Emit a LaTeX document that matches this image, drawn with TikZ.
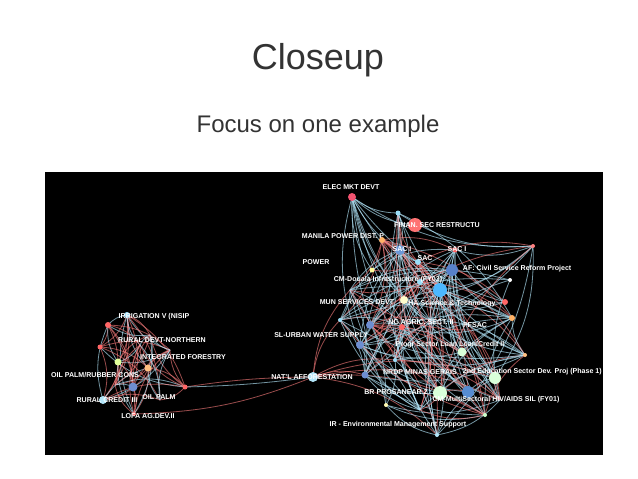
\documentclass[tikz,border=0pt]{standalone}
\usepackage{fontspec}
\setmainfont{Liberation Sans}
\begin{document}
\begin{tikzpicture}[x=0.75pt,y=-0.75pt,
  lab/.style={text=white,font=\fontsize{5.3}{6}\selectfont\bfseries,inner sep=0.5pt},
  edgeR/.style={draw=red!50!white,opacity=0.6,line width=0.6pt},
  edgeB/.style={draw=cyan!30!white,opacity=0.65,line width=0.6pt}]
\useasboundingbox (0,0) rectangle (638,478);
\fill[white] (0,0) rectangle (638,478);
\node[font=\fontsize{27}{30}\selectfont,text=black!80] (title) at (318,60) {Closeup};
\node[font=\fontsize{18}{21}\selectfont,text=black!80] (sub) at (318,126) {Focus on one example};
\fill[black] (45,172) rectangle (603,455);
% right cluster points
\foreach \x/\y [count=\i] in {352/197,415/225,382/240,400/250,455/250,418/262,372/270,452/270,420/282,440/290,404/300,505/302,402/327,512/318,370/325,360/345,462/352,313/377,365/375,495/378,440/393,468/392,386/405,485/415,437/435,398/213,533/246,510/280,340/320,395/360,525/355,430/320,470/330,350/290,500/400,420/410}
  {\coordinate (r\i) at (\x,\y);}
\foreach \i in {1,...,36}{\foreach \j in {1,...,36}{
  \ifnum\i<\j
    \pgfmathparse{int(mod(\i*7+\j*13+\i*\j,5))}
    \ifnum\pgfmathresult<2
      \pgfmathparse{int(mod(\i+\j*3,3))}
      \ifnum\pgfmathresult=0
        \draw[edgeR] (r\i) to[bend left=18] (r\j);
      \else
        \draw[edgeB] (r\i) to[bend right=18] (r\j);
      \fi
    \fi
  \fi}}
% left cluster points
\foreach \x/\y [count=\i] in {127/315,108/325,100/347,118/362,148/368,133/387,103/400,134/414,185/387,150/335,170/350,115/385,160/400,140/345}
  {\coordinate (l\i) at (\x,\y);}
\foreach \i in {1,...,14}{\foreach \j in {1,...,14}{
  \ifnum\i<\j
    \pgfmathparse{int(mod(\i*5+\j*11+\i*\j,4))}
    \ifnum\pgfmathresult<3
      \pgfmathparse{int(mod(\i+\j,3))}
      \ifnum\pgfmathresult=0
        \draw[edgeB] (l\i) to[bend right=20] (l\j);
      \else
        \draw[edgeR] (l\i) to[bend left=20] (l\j);
      \fi
    \fi
  \fi}}
\draw[edgeR] (l9) to[bend left=4] (r18);
\draw[edgeB] (l9) to[bend right=3] (r18);
\draw[edgeR] (l8) to[bend right=10] (r18);
% node dots
\foreach \c/\r/\col in {r1/4/magenta!40!red!70!white,r2/7/red!55!white,r3/3/orange!60!white,r4/5/cyan!50!blue!60!white,r5/2.5/red!60!white,r6/3/cyan!40!white,r7/2.5/yellow!40!white,r8/6/cyan!40!blue!70!white,r9/3/cyan!40!white,r10/7/blue!40!cyan!70!white,r11/4/yellow!20!white,r12/3/red!60!white,r13/3/red!60!white,r14/3/orange!60!white,r15/4/cyan!40!blue!60!white,r16/4/cyan!40!blue!60!white,r17/4.5/green!15!white,r18/5/cyan!30!white,r19/3.5/cyan!40!blue!60!white,r20/6/green!15!white,r21/7/green!15!white,r22/6/cyan!50!blue!70!white,r23/2/yellow!30!white,r24/2/green!20!white,r25/2/cyan!30!white,r26/2.5/cyan!40!white,r27/2/red!50!white,r28/2/white,r29/2/cyan!40!white,r30/2/cyan!40!white,r31/2/orange!50!white,
 l1/3/cyan!40!white,l2/3/red!60!white,l3/2.5/red!60!white,l4/3.5/green!30!yellow!40!white,l5/3.5/orange!50!white,l6/4.5/cyan!40!blue!60!white,l7/4/cyan!30!white,l8/2/red!50!white,l9/2.5/red!60!white}
  {\fill[\col] (\c) circle (\r);}
% labels right
\node[lab] (t1) at (351,187) {ELEC MKT DEVT};
\node[lab] (t2) at (437,225) {FINAN. SEC RESTRUCTU};
\node[lab] (t3) at (343,236) {MANILA POWER DIST. P};
\node[lab] (t4) at (402,249) {SAC I};
\node[lab] (t5) at (457,249) {SAC I};
\node[lab] (t6) at (425,258) {SAC};
\node[lab] (t7) at (316,262) {POWER};
\node[lab,anchor=west] (t8) at (462,269) {AF: Civil Service Reform Project};
\node[lab] (t9) at (388,280) {CM-Douala Infrastructure (FY03)};
\node[lab] (t10) at (357,302) {MUN SERVICES DEVT};
\node[lab] (t11) at (452,304) {HA Science \& Technology};
\node[lab] (t12) at (421,322) {NG AGRIC. SECT. II};
\node[lab] (t13) at (475,325) {PFSAC};
\node[lab] (t14) at (321,335) {SL-URBAN WATER SUPPLY};
\node[lab] (t15) at (450,345) {Progr Sector Loan Loan/Credit II};
\node[lab] (t16) at (312,377) {NAT'L AFFORESTATION};
\node[lab] (t17) at (420,372) {NRDP MINAS GERAIS};
\node[lab,anchor=west] (t18) at (462,372) {2nd Education Sector Dev. Proj (Phase 1)};
\node[lab] (t19) at (396,392) {BR PROSANEAR 2};
\node[lab] (t20) at (496,400) {CM-MultiSectoral HIV/AIDS SIL (FY01)};
\node[lab] (t21) at (398,425) {IR - Environmental Management Support};
% labels left
\node[lab] (u1) at (154,317) {IRRIGATION V (NISIP};
\node[lab] (u2) at (162,340) {RURAL DEVT-NORTHERN};
\node[lab] (u3) at (183,357) {INTEGRATED FORESTRY};
\node[lab] (u4) at (95,375) {OIL PALM/RUBBER CONS};
\node[lab] (u5) at (107,400) {RURAL CREDIT III};
\node[lab] (u6) at (159,397) {OIL PALM};
\node[lab] (u7) at (148,416) {LOFA AG.DEV.II};
\end{tikzpicture}
\end{document}
